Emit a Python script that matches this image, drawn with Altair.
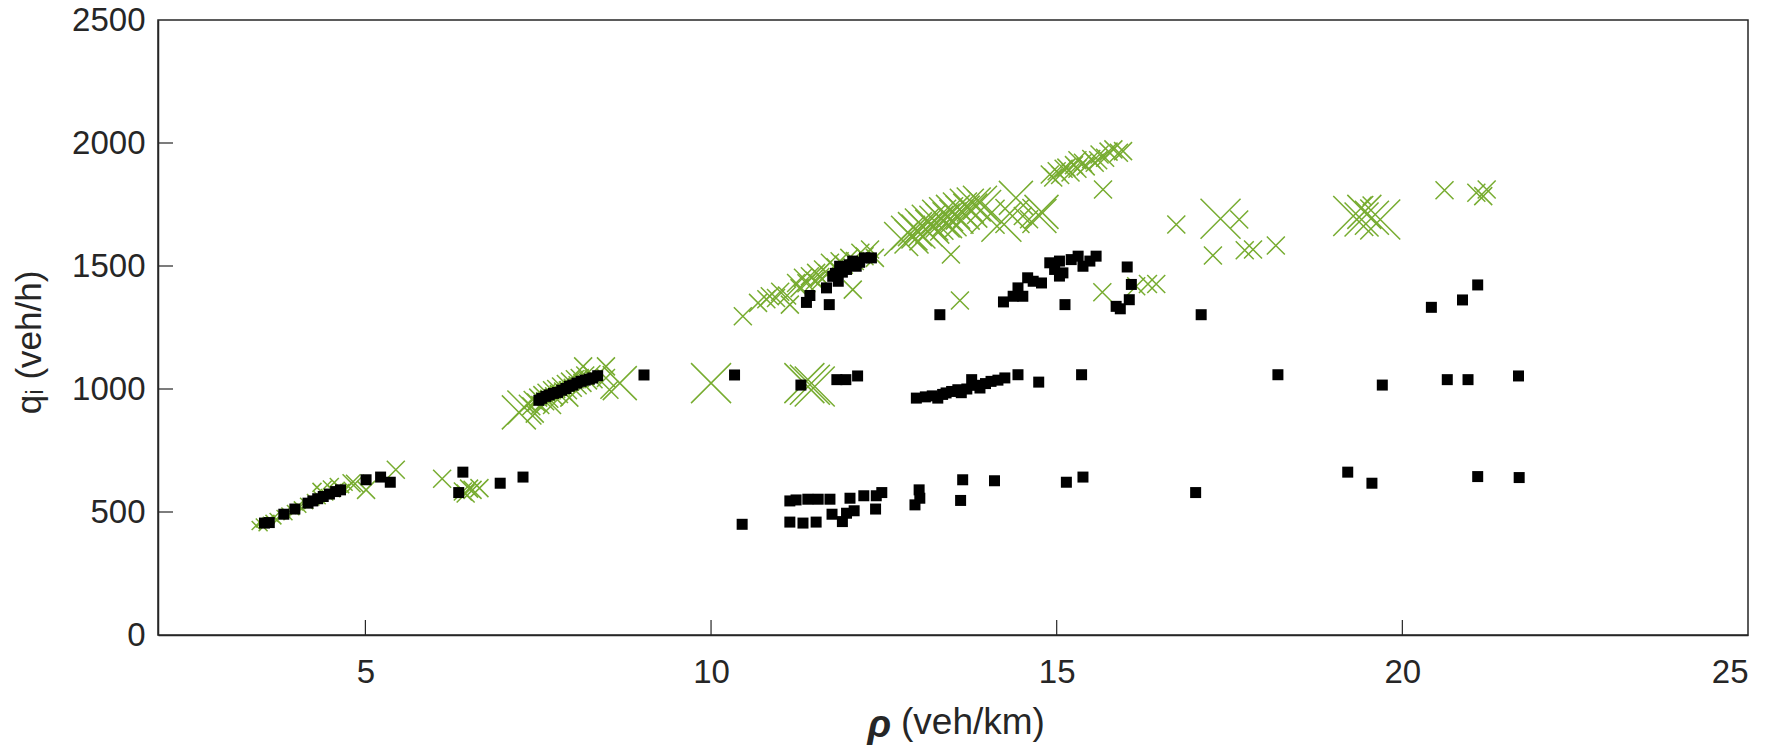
import altair as alt
import pandas as pd

# ---- black squares (rho, q) ----
bx = [3.54, 3.61, 3.82, 3.98, 4.17, 4.24, 4.31, 4.39, 4.48, 4.57, 4.64, 5.01, 5.22, 5.36, 6.41, 6.35, 6.95, 7.28,
      7.51, 7.55, 7.61, 7.66, 7.72, 7.78, 7.84, 7.90, 7.95, 8.00, 8.06, 8.12, 8.18, 8.24, 8.29, 8.36,
      9.03, 10.34, 11.30, 11.82, 11.95, 12.12,
      12.97, 13.10, 13.20, 13.28, 13.35, 13.40, 13.48, 13.57, 13.62, 13.70, 13.77, 13.82, 13.89, 13.97, 14.05,
      14.15, 14.25, 14.44, 14.74, 15.36, 18.20, 19.71, 20.65, 20.95, 21.68,
      11.38, 11.43, 11.71, 11.67, 11.76, 11.84, 11.86, 11.96, 12.00, 12.10, 12.15, 12.22, 12.32, 11.80, 11.90, 12.05,
      13.31, 14.23, 14.37, 14.51, 14.44, 14.58, 14.66, 14.78, 14.90, 15.04, 14.97, 15.09, 15.04, 15.21, 15.31,
      15.38, 15.48, 15.57, 15.12, 16.02, 16.08, 16.05, 15.86, 15.92, 17.09, 21.09, 20.87, 20.42,
      10.45, 11.14, 11.23, 11.40, 11.55, 11.72, 11.14, 11.33, 11.52, 11.75, 11.90, 11.96, 12.07, 12.01, 12.21,
      12.38, 12.39, 12.47, 13.01, 13.02, 12.95, 13.64, 13.61, 14.10, 15.14, 15.38, 17.01, 19.21, 19.56, 21.09, 21.69]
by = [455, 457, 491, 512, 536, 545, 554, 563, 573, 583, 590, 631, 642, 621, 662, 579, 617, 642,
      954, 962, 970, 976, 982, 986, 995, 1002, 1011, 1016, 1024, 1031, 1036, 1040, 1045, 1054,
      1057, 1057, 1016, 1038, 1038, 1053,
      963, 968, 972, 963, 978, 984, 990, 997, 985, 1000, 1038, 1015, 1004, 1022, 1031,
      1036, 1045, 1058, 1028, 1058, 1058, 1016, 1038, 1038, 1053,
      1352, 1380, 1343, 1411, 1458, 1438, 1499, 1486, 1505, 1499, 1515, 1533, 1533, 1470, 1475, 1520,
      1302, 1354, 1377, 1377, 1411, 1452, 1438, 1431, 1513, 1520, 1486, 1472, 1459, 1526, 1540,
      1499, 1520, 1540, 1343, 1496, 1425, 1363, 1336, 1326, 1302, 1423, 1362, 1332,
      450, 545, 549, 552, 552, 552, 459, 455, 459, 491, 461, 495, 505, 556, 566,
      512, 566, 579, 590, 556, 529, 631, 547, 627, 621, 642, 579, 662, 617, 644, 640]

# ---- green crosses (rho, q, marker class) ----
gx = [3.42, 3.48, 3.52, 3.58, 3.62, 3.68, 3.72, 3.78, 3.85, 3.88, 3.93, 3.98, 4.03, 4.08, 4.12, 4.18, 4.22,
      4.27, 4.32, 4.36, 4.42, 4.47, 4.52, 4.57, 4.62, 4.70, 4.75, 4.30, 4.45, 4.55,
      4.80, 4.85, 5.01, 5.44, 6.11, 6.41, 6.45, 6.50, 6.55, 6.65,
      7.22, 7.30, 7.35, 7.40, 7.42, 7.47, 7.50, 7.53, 7.56, 7.60, 7.62, 7.66, 7.70, 7.73, 7.76, 7.80, 7.83,
      7.86, 7.90, 7.93, 7.96, 8.00, 8.03, 8.07, 8.10, 8.14, 8.18, 8.22, 8.27, 8.30, 8.15, 8.48, 8.48, 8.53,
      8.68, 7.45, 7.70, 7.95,
      10.00, 11.35, 11.43, 11.50,
      10.46, 10.68, 10.80, 10.85, 10.94, 11.00, 11.10, 11.14, 11.23, 11.28, 11.33, 11.38, 11.43, 11.50, 11.52,
      11.58, 11.62, 11.68, 11.72, 11.80, 11.86, 11.92, 12.00, 12.08, 12.16, 12.22, 12.30, 12.37, 12.05, 11.55,
      12.75, 12.85, 12.90, 12.95, 13.00, 13.05, 13.10, 13.15, 13.20, 13.26, 13.30, 13.35, 13.40, 13.45, 13.50,
      13.55, 13.60, 13.64, 13.70, 13.75, 13.80, 13.89, 13.95, 13.47, 13.60, 13.30, 13.00, 13.50,
      14.00, 14.20, 14.36, 14.41, 14.51, 14.60, 14.75, 14.78,
      14.90, 14.95, 15.00, 15.05, 15.10, 15.14, 15.20, 15.25, 15.30, 15.38, 15.42, 15.50, 15.55, 15.62, 15.70,
      15.75, 15.82, 15.90, 15.96, 15.30, 15.60,
      15.67, 15.66, 16.15, 16.32, 16.44, 16.73, 17.37, 17.64, 17.26, 17.72, 17.84, 18.17,
      19.29, 19.41, 19.56, 19.68, 19.49, 19.45, 20.61, 21.07, 21.22, 21.17]
gy = [445, 455, 440, 462, 470, 478, 468, 490, 500, 485, 510, 505, 525, 515, 540, 530, 555,
      545, 565, 550, 575, 565, 590, 578, 600, 595, 605, 600, 610, 620,
      617, 615, 590, 672, 635, 583, 575, 595, 590, 597,
      905, 925, 940, 930, 955, 945, 965, 935, 975, 950, 985, 960, 995, 970, 1000, 980, 1010,
      990, 1020, 995, 1030, 1005, 1040, 1015, 1045, 1025, 1055, 1035, 1060, 1040, 1092, 1092, 1045, 997,
      1024, 900, 935, 965,
      1024, 1024, 1017, 1010,
      1296, 1350, 1365, 1377, 1370, 1395, 1380, 1343, 1431, 1410, 1452, 1430, 1458, 1440, 1472,
      1455, 1486, 1470, 1513, 1495, 1519, 1505, 1533, 1520, 1554, 1540, 1567, 1533, 1404, 1430,
      1610, 1635, 1620, 1650, 1640, 1665, 1650, 1680, 1660, 1676, 1700, 1685, 1710, 1690, 1720,
      1700, 1730, 1717, 1745, 1725, 1750, 1757, 1740, 1547, 1360, 1640, 1600, 1650,
      1700, 1680, 1703, 1777, 1703, 1690, 1703, 1720,
      1872, 1860, 1885, 1870, 1895, 1900, 1880, 1910, 1895, 1920, 1905, 1935, 1920, 1953, 1940,
      1965, 1974, 1960, 1967, 1930, 1930,
      1811, 1393, 1418, 1427, 1427, 1669, 1692, 1689, 1543, 1564, 1567, 1583,
      1703, 1689, 1696, 1689, 1764, 1720, 1808, 1798, 1811, 1784]
gc = [1] * 30 + [2] * 10 + \
     [3, 3] + [2] * 32 + [3] + [2] * 3 + \
     [4, 4, 4, 4] + \
     [2] * 30 + \
     [3] * 23 + [2] * 5 + \
     [3, 4, 3, 3, 2, 2, 3, 3] + \
     [2] * 21 + \
     [2] * 6 + [4] + [2] * 5 + \
     [4, 3, 3, 4, 1, 3, 2, 2, 2, 2]

x_ticks = [5, 10, 15, 20, 25]
y_ticks = [0, 500, 1000, 1500, 2000, 2500]
x_title_sym = ["ρ"]
x_title_unit = ["(veh/km)"]
y_title = "qᵢ (veh/h)"

black = pd.DataFrame({"rho": bx, "q": by})
green = pd.DataFrame({"rho": gx, "q": gy, "cls": gc})
xt = pd.DataFrame({"t": x_ticks[:-1]})
yt = pd.DataFrame({"t": y_ticks[1:-1]})
sym_df = pd.DataFrame({"s": x_title_sym})
unit_df = pd.DataFrame({"s": x_title_unit})

AX = "#262626"
GREEN = "#77AC30"
FONT = "Liberation Sans"
X_PATH = "M-1,-1L1,1M-1,1L1,-1"
W, H = 1590, 615
LFS = 33   # tick label font size
TFS = 37   # x title font size

xscale = alt.Scale(domain=[2, 25], nice=False, zero=False)
yscale = alt.Scale(domain=[0, 2500], nice=False, zero=False)

xaxis = alt.Axis(values=x_ticks, format="d", title=None, ticks=False, tickSize=0, grid=False,
                 labelFontSize=LFS, labelPadding=21, labelColor=AX, labelFont=FONT,
                 domainColor=AX, domainWidth=1.5)
yaxis = alt.Axis(values=y_ticks, format="d", title=y_title, ticks=False, tickSize=0, grid=False,
                 labelFontSize=LFS, labelPadding=13, labelColor=AX, labelFont=FONT,
                 titleFontSize=35, titleFontWeight="normal", titleColor=AX, titleFont=FONT,
                 titleAngle=270, titleX=-129, titleY=322, titleBaseline="middle", titleAlign="center",
                 domainColor=AX, domainWidth=1.5)

X = alt.X("rho:Q", scale=xscale, axis=xaxis)
Y = alt.Y("q:Q", scale=yscale, axis=yaxis)

g = alt.Chart(green).mark_point(shape=X_PATH, filled=False, strokeWidth=1.5, color=GREEN, opacity=1).encode(
    x=X, y=Y,
    size=alt.Size("cls:Q", scale=alt.Scale(type="threshold", domain=[1.5, 2.5, 3.5],
                                           range=[81, 324, 1156, 1600]), legend=None),
)

b = alt.Chart(black).mark_square(size=121, color="black", opacity=1).encode(x=X, y=Y)

xr = alt.Chart(xt).mark_rule(color=AX, strokeWidth=1.2).encode(
    x=alt.X("t:Q", scale=xscale, axis=xaxis), y=alt.value(H), y2=alt.value(H - 15))
yr = alt.Chart(yt).mark_rule(color=AX, strokeWidth=1.2).encode(
    y=alt.Y("t:Q", scale=yscale, axis=yaxis), x=alt.value(0), x2=alt.value(15))

# x-axis title: bold italic rho followed by the unit in regular type (one row each)
TX = W / 2 - 62
TY = H + 88
t1 = alt.Chart(sym_df).mark_text(font=FONT, fontSize=TFS + 2, fontStyle="italic",
                                 fontWeight="bold", color=AX, align="right", baseline="middle").encode(
    text="s:N", x=alt.value(TX), y=alt.value(TY + 2))
t2 = alt.Chart(unit_df).mark_text(font=FONT, fontSize=TFS, fontWeight="normal",
                                  fontStyle="normal", color=AX, align="left", baseline="middle",
                                  dx=10).encode(
    text="s:N", x=alt.value(TX), y=alt.value(TY))

chart = alt.layer(g, b, xr, yr, t1, t2).properties(
    width=W, height=H,
    background="white",
    autosize=alt.AutoSizeParams(type="none"),
    padding={"left": 150, "top": 12, "right": 10, "bottom": 112},
).configure_view(stroke=AX, strokeWidth=1.5)

chart.save("out.html", embed_options={"renderer": "svg", "actions": False})
